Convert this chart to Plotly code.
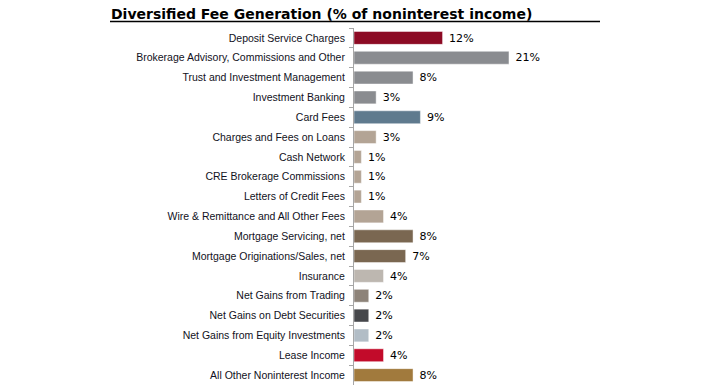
import plotly.graph_objects as go

categories = [
    "Deposit Service Charges",
    "Brokerage Advisory, Commissions and Other",
    "Trust and Investment Management",
    "Investment Banking",
    "Card Fees",
    "Charges and Fees on Loans",
    "Cash Network",
    "CRE Brokerage Commissions",
    "Letters of Credit Fees",
    "Wire & Remittance and All Other Fees",
    "Mortgage Servicing, net",
    "Mortgage Originations/Sales, net",
    "Insurance",
    "Net Gains from Trading",
    "Net Gains on Debt Securities",
    "Net Gains from Equity Investments",
    "Lease Income",
    "All Other Noninterest Income",
]
values = [12, 21, 8, 3, 9, 3, 1, 1, 1, 4, 8, 7, 4, 2, 2, 2, 4, 8]
colors = [
    "#8C0A24", "#8A8C90", "#8A8C90", "#8A8C90", "#5F7A8E", "#B3A495",
    "#B3A495", "#B3A495", "#B3A495", "#B3A495", "#7A6751", "#7A6751",
    "#BDB7B0", "#8D8379", "#46474B", "#B2BDC6", "#C20B2A", "#A17A3D",
]
title_text = "Diversified Fee Generation (% of noninterest income)"

W, H = 710, 388
ml, mr, mt, mb = 354, 60, 28, 3
pw = W - ml - mr
ph = H - mt - mb
px_per_unit = 7.38

fig = go.Figure(go.Bar(
    x=values, y=categories, orientation="h",
    marker=dict(color=colors, line=dict(color="rgba(255,255,255,0.45)", width=1)),
    width=0.65,
    texttemplate="\u00a0%{x:.0f}%",
    textposition="outside",
    textfont=dict(family="DejaVu Sans", size=12, color="#000000"),
    cliponaxis=False,
    hoverinfo="skip",
))

fig.update_layout(
    width=W, height=H,
    margin=dict(l=ml, r=mr, t=mt, b=mb, autoexpand=False),
    paper_bgcolor="white", plot_bgcolor="white",
    showlegend=False,
    title=dict(
        text="<b>" + title_text + "</b>",
        font=dict(family="DejaVu Sans", size=14, color="#000000"),
        xref="container", yref="container",
        x=111 / W, xanchor="left", y=1 - 14.5 / H, yanchor="middle",
    ),
)
fig.update_xaxes(
    range=[0, pw / px_per_unit], visible=False, fixedrange=True,
)
fig.update_yaxes(
    autorange=False,
    range=[17.5, -0.5],
    showline=True, linecolor="#A6A6A6", linewidth=1,
    ticks="outside", ticklen=4, tickcolor="#A6A6A6", tickson="boundaries",
    showgrid=False, zeroline=False, automargin=False, fixedrange=True,
    tickfont=dict(family="Liberation Sans", size=10.5, color="#111122"),
    ticklabelstandoff=6,
)

# underline of title
fig.add_shape(
    type="line", xref="paper", yref="paper",
    x0=(110 - ml) / pw, x1=(600 - ml) / pw,
    y0=(H - mb - 21.5) / ph, y1=(H - mb - 21.5) / ph,
    line=dict(color="#000000", width=1.5),
)

fig.write_html(
    "out.html",
    config={"displayModeBar": False},
    post_script="document.body.style.margin='0';document.body.style.padding='0';",
)
